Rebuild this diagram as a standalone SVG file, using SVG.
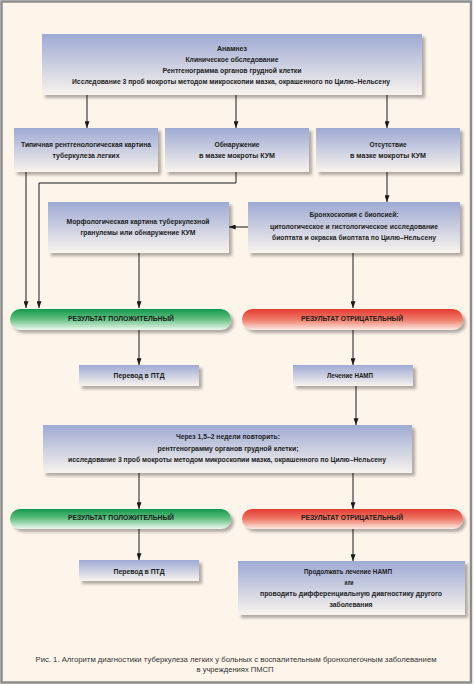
<svg xmlns="http://www.w3.org/2000/svg" width="474" height="685" viewBox="0 0 474 685">
<defs>
<linearGradient id="gBox" x1="0" y1="0" x2="0" y2="1">
<stop offset="0" stop-color="#9eaad4"/>
<stop offset="1" stop-color="#f8f3ed"/>
</linearGradient>
<linearGradient id="gGreen" x1="0" y1="0" x2="0" y2="1">
<stop offset="0" stop-color="#13984d"/>
<stop offset="0.45" stop-color="#5dbd7c"/>
<stop offset="1" stop-color="#eef8ef"/>
</linearGradient>
<linearGradient id="gRed" x1="0" y1="0" x2="0" y2="1">
<stop offset="0" stop-color="#e43b30"/>
<stop offset="0.5" stop-color="#ef7a68"/>
<stop offset="1" stop-color="#fdebe5"/>
</linearGradient>
<filter id="sh" x="-10%" y="-20%" width="125%" height="160%">
<feDropShadow dx="3" dy="3" stdDeviation="1.8" flood-color="#000" flood-opacity="0.3"/>
</filter>
<marker id="ah" viewBox="0 0 8 6" refX="8" refY="3" markerWidth="7" markerHeight="5" markerUnits="userSpaceOnUse" orient="auto">
<path d="M0,0 L8,3 L0,6 Z" fill="#1a1a1a"/>
</marker>
<style>
.box{fill:url(#gBox);filter:url(#sh)}
.pg{fill:url(#gGreen);filter:url(#sh)}
.pr{fill:url(#gRed);filter:url(#sh)}
.t{font-family:"Liberation Sans Narrow","Liberation Sans",sans-serif;font-weight:bold;font-size:7px;fill:#1c1c1c;text-anchor:middle}
.cap{font-family:"Liberation Sans Narrow","Liberation Sans",sans-serif;font-size:7px;fill:#333;text-anchor:middle}
.c{fill:none;stroke:#1a1a1a;stroke-width:1}
</style>
</defs>
<rect x="0" y="0" width="474" height="685" fill="#ffffff"/>
<rect x="1.5" y="1.5" width="469.5" height="681" fill="#fdf4ea" stroke="#8c8c8c" stroke-width="2.5"/>

<g id="connectors">
<path class="c" d="M87,95 V128" marker-end="url(#ah)"/>
<path class="c" d="M236,95 V128" marker-end="url(#ah)"/>
<path class="c" d="M387,95 V128" marker-end="url(#ah)"/>
<path class="c" d="M26,172 V308" marker-end="url(#ah)"/>
<path class="c" d="M236,172 V183 H39 V308" marker-end="url(#ah)"/>
<path class="c" d="M387,172 V202" marker-end="url(#ah)"/>
<path class="c" d="M248,227 H229" marker-end="url(#ah)"/>
<path class="c" d="M139,253 V308" marker-end="url(#ah)"/>
<path class="c" d="M353,253 V308" marker-end="url(#ah)"/>
<path class="c" d="M139,330 V365" marker-end="url(#ah)"/>
<path class="c" d="M353,330 V365" marker-end="url(#ah)"/>
<path class="c" d="M356,386 V425" marker-end="url(#ah)"/>
<path class="c" d="M139,473 V509" marker-end="url(#ah)"/>
<path class="c" d="M353,473 V509" marker-end="url(#ah)"/>
<path class="c" d="M139,528 V560" marker-end="url(#ah)"/>
<path class="c" d="M353,528 V561" marker-end="url(#ah)"/>
</g>

<g id="n-anamnez">
<rect class="box" x="42" y="34" width="380" height="61"/>
<text class="t" x="232" y="50.5" textLength="30" lengthAdjust="spacingAndGlyphs">Анамнез</text>
<text class="t" x="232" y="61.5" textLength="93" lengthAdjust="spacingAndGlyphs">Клиническое обследование</text>
<text class="t" x="232" y="72.5" textLength="139" lengthAdjust="spacingAndGlyphs">Рентгенограмма органов грудной клетки</text>
<text class="t" x="231" y="83.5" textLength="318" lengthAdjust="spacingAndGlyphs">Исследование 3 проб мокроты методом микроскопии мазка, окрашенного по Цилю–Нельсену</text>
</g>

<g id="n-typical">
<rect class="box" x="14" y="128" width="144" height="44"/>
<text class="t" x="86" y="146.5" textLength="130" lengthAdjust="spacingAndGlyphs">Типичная рентгенологическая картина</text>
<text class="t" x="86" y="157.5" textLength="67" lengthAdjust="spacingAndGlyphs">туберкулеза легких</text>
</g>

<g id="n-found">
<rect class="box" x="165" y="128" width="144" height="44"/>
<text class="t" x="237" y="146.5" textLength="45" lengthAdjust="spacingAndGlyphs">Обнаружение</text>
<text class="t" x="237" y="157.5" textLength="76" lengthAdjust="spacingAndGlyphs">в мазке мокроты КУМ</text>
</g>

<g id="n-absent">
<rect class="box" x="316" y="128" width="144" height="44"/>
<text class="t" x="388" y="146.5" textLength="37" lengthAdjust="spacingAndGlyphs">Отсутствие</text>
<text class="t" x="388" y="157.5" textLength="76" lengthAdjust="spacingAndGlyphs">в мазке мокроты КУМ</text>
</g>

<g id="n-morph">
<rect class="box" x="48" y="202" width="181" height="51"/>
<text class="t" x="138" y="223.5" textLength="143" lengthAdjust="spacingAndGlyphs">Морфологическая картина туберкулезной</text>
<text class="t" x="138" y="234.5" textLength="115" lengthAdjust="spacingAndGlyphs">гранулемы или обнаружение КУМ</text>
</g>

<g id="n-broncho">
<rect class="box" x="248" y="202" width="212" height="51"/>
<text class="t" x="354" y="216.5" textLength="89" lengthAdjust="spacingAndGlyphs">Бронхоскопия с биопсией:</text>
<text class="t" x="354" y="228.5" textLength="168" lengthAdjust="spacingAndGlyphs">цитологическое и гистологическое исследование</text>
<text class="t" x="354" y="239.5" textLength="164" lengthAdjust="spacingAndGlyphs">биоптата и окраска биоптата по Цилю–Нельсену</text>
</g>

<g id="n-pos1">
<rect class="pg" x="10" y="309" width="221" height="21" rx="10.5"/>
<text class="t" x="121" y="320.5" textLength="106" lengthAdjust="spacingAndGlyphs">РЕЗУЛЬТАТ ПОЛОЖИТЕЛЬНЫЙ</text>
</g>

<g id="n-neg1">
<rect class="pr" x="242" y="309" width="221" height="21" rx="10.5"/>
<text class="t" x="352" y="320.5" textLength="102" lengthAdjust="spacingAndGlyphs">РЕЗУЛЬТАТ ОТРИЦАТЕЛЬНЫЙ</text>
</g>

<g id="n-ptd1">
<rect class="box" x="79" y="365" width="120" height="21"/>
<text class="t" x="139" y="377.5" textLength="51" lengthAdjust="spacingAndGlyphs">Перевод в ПТД</text>
</g>

<g id="n-namp">
<rect class="box" x="293" y="365" width="120" height="21"/>
<text class="t" x="350" y="377.5" textLength="46" lengthAdjust="spacingAndGlyphs">Лечение НАМП</text>
</g>

<g id="n-repeat">
<rect class="box" x="43" y="425" width="369" height="48"/>
<text class="t" x="228" y="438.5" textLength="104" lengthAdjust="spacingAndGlyphs">Через 1,5–2 недели повторить:</text>
<text class="t" x="228" y="450.5" textLength="141" lengthAdjust="spacingAndGlyphs">рентгенограмму органов грудной клетки;</text>
<text class="t" x="227" y="461.5" textLength="318" lengthAdjust="spacingAndGlyphs">исследование 3 проб мокроты методом микроскопии мазка, окрашенного по Цилю–Нельсену</text>
</g>

<g id="n-pos2">
<rect class="pg" x="10" y="509" width="221" height="20" rx="10"/>
<text class="t" x="121" y="519.5" textLength="106" lengthAdjust="spacingAndGlyphs">РЕЗУЛЬТАТ ПОЛОЖИТЕЛЬНЫЙ</text>
</g>

<g id="n-neg2">
<rect class="pr" x="242" y="509" width="221" height="20" rx="10"/>
<text class="t" x="352" y="519.5" textLength="102" lengthAdjust="spacingAndGlyphs">РЕЗУЛЬТАТ ОТРИЦАТЕЛЬНЫЙ</text>
</g>

<g id="n-ptd2">
<rect class="box" x="79" y="560" width="120" height="21"/>
<text class="t" x="139" y="574" textLength="51" lengthAdjust="spacingAndGlyphs">Перевод в ПТД</text>
</g>

<g id="n-continue">
<rect class="box" x="238" y="561" width="227" height="54"/>
<text class="t" x="348" y="573.5" textLength="88" lengthAdjust="spacingAndGlyphs">Продолжать лечение НАМП</text>
<text class="t" x="349" y="584.5" textLength="9" lengthAdjust="spacingAndGlyphs">или</text>
<text class="t" x="351" y="595.5" textLength="182" lengthAdjust="spacingAndGlyphs">проводить дифференциальную диагностику другого</text>
<text class="t" x="351" y="606.5" textLength="43" lengthAdjust="spacingAndGlyphs">заболевания</text>
</g>

<g id="caption">
<text class="cap" x="236" y="661.5" textLength="401" lengthAdjust="spacingAndGlyphs">Рис. 1. Алгоритм диагностики туберкулеза легких у больных с воспалительным бронхолегочным заболеванием</text>
<text class="cap" x="235" y="671.5" textLength="77" lengthAdjust="spacingAndGlyphs">в учреждениях ПМСП</text>
</g>
</svg>
